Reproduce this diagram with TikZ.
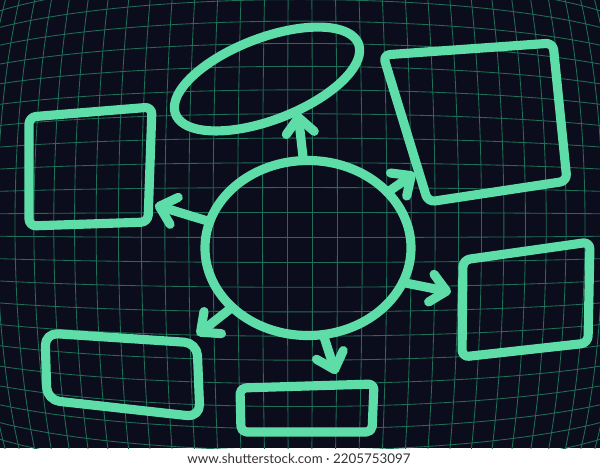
\documentclass[tikz,border=0pt]{standalone}
\usepackage{fontspec}
\setmainfont{Lato}
\usetikzlibrary{arrows.meta,shapes.geometric}
\definecolor{bgc}{HTML}{0C0D1C}
\definecolor{gridc}{HTML}{1F6E57}
\definecolor{mint}{HTML}{5EDDA8}
\definecolor{wmtext}{HTML}{333333}
\begin{document}
\begin{tikzpicture}[x=0.025cm,y=-0.025cm,
  sketch/.style={draw=mint,line width=6.5pt,line cap=round,line join=round},
  arr/.style={draw=mint,line width=6.5pt,line cap=round,-{Straight Barb[length=11pt,width=20pt,line cap=round,line join=round]}},
  gridline/.style={draw=gridc,line width=0.6pt}]
\useasboundingbox (0,0) rectangle (600,470);
\fill[bgc] (0,0) rectangle (600,448);
\begin{scope}
\clip (0,0) rectangle (600,448);
\foreach \a in {-5.125,-4.875,...,5.2} {
  \draw[gridline] plot[domain=-5:5,samples=50,smooth,variable=\t]
    ({300+100*\a*(1-0.009*(\a*\a+\t*\t))},{225+100*\t*(1-0.009*(\a*\a+\t*\t))});
  \draw[gridline] plot[domain=-5:5,samples=50,smooth,variable=\t]
    ({300+100*\t*(1-0.009*(\a*\a+\t*\t))},{225+100*\a*(1-0.009*(\a*\a+\t*\t))});
}
\end{scope}
% central circle
\node[ellipse,sketch,inner sep=0pt,outer sep=0pt,minimum width=5.15cm,minimum height=4.375cm] (c) at (308,248) {};
% top oval
\draw[sketch] plot[domain=0:360,samples=72,smooth cycle,variable=\t]
  ({267+98*cos(\t)*cos(21)+41*sin(\t)*sin(21)},{79-98*cos(\t)*sin(21)+41*sin(\t)*cos(21)});
% boxes
\draw[sketch,rounded corners=5pt] (383,55) -- (553,43) -- (567,181) -- (428,202) -- cycle;
\draw[sketch,rounded corners=5pt] (29,117) -- (152,107) -- (148,222) -- (29,226) -- cycle;
\draw[sketch,rounded corners=5pt] (463,260) -- (590,242) -- (588,343) -- (462,357) -- cycle;
\draw[sketch,rounded corners=9pt] (45,333) -- (197,343) -- (200,417) -- (47,400) -- cycle;
\draw[sketch,rounded corners=4pt] (240,388) -- (374,384) -- (372,432) -- (241,432) -- cycle;
% arrow tips
\coordinate (tUp) at (298,113);
\coordinate (tLeft) at (155,205);
\coordinate (tTR) at (415,173);
\coordinate (tRight) at (451,292);
\coordinate (tDown) at (336,374);
\coordinate (tBL) at (197,335);
\draw[arr] (c.93) -- (tUp);
\draw[arr] (c.165) -- (tLeft);
\draw[arr] (c.35) -- (tTR);
\draw[arr] (c.-20) -- (tRight);
\draw[arr] (c.-80) -- (tDown);
\draw[arr] (c.218) -- (tBL);
% bottom strip
\node[font=\fontsize{9.5}{11}\selectfont,text=wmtext,inner sep=0pt] (wm) at (299,459) {www.shutterstock.com · 2205753097};
\end{tikzpicture}
\end{document}
